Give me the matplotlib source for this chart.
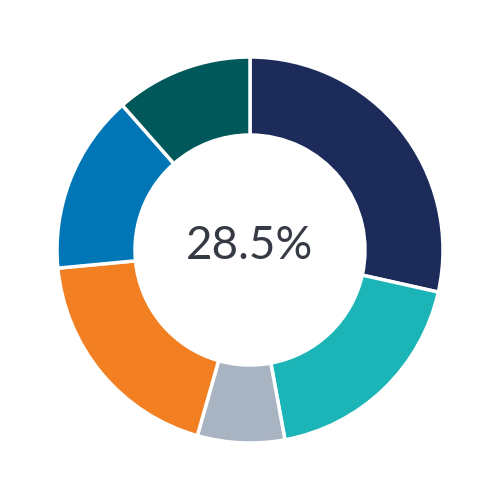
import matplotlib.pyplot as plt

labels = ['A', 'B', 'C', 'D', 'E', 'F']
values = [28.5, 18.6, 7.3, 19.1, 15.0, 11.5]
colors = ['#1c2b5a', '#1bb5b8', '#a9b4c2', '#f27f21', '#0076b6', '#00585a']
center_text = '28.5%'

fig = plt.figure(figsize=(5, 5), dpi=100)
ax = fig.add_axes([0, 0, 1, 1])

ax.pie(values, colors=colors, startangle=90, counterclock=False,
       radius=0.386,
       wedgeprops=dict(width=0.156, edgecolor='white', linewidth=2.5))
ax.text(0, 0.008, center_text, ha='center', va='center', fontsize=33,
        family='Lato', color='#353a45')

ax.set_xlim(-0.5, 0.5)
ax.set_ylim(-0.5, 0.5)
ax.set_aspect('equal')
ax.axis('off')

plt.savefig('out.png', dpi=100, facecolor='white')
plt.close()
